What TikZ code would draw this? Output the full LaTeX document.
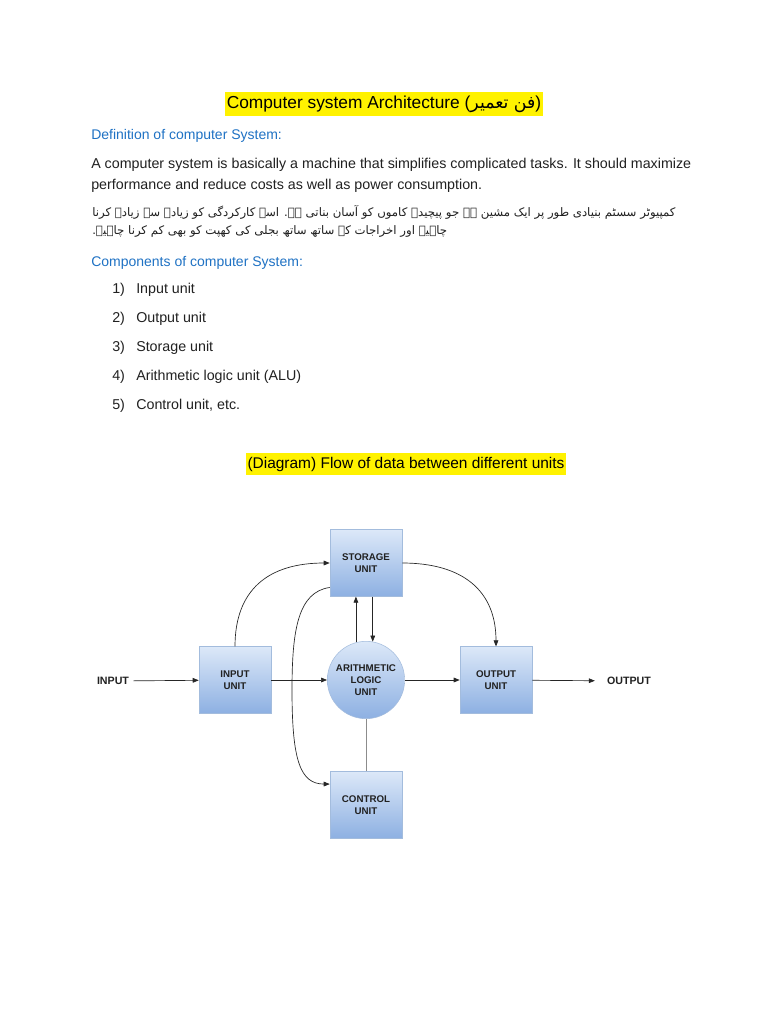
\documentclass[tikz,border=0pt]{standalone}
\usepackage{fontspec}
\setmainfont{Liberation Sans}
\newfontfamily\urdufont[Script=Arabic]{DejaVu Sans}
\TeXXeTstate=1
\usetikzlibrary{arrows.meta}
\definecolor{headblue}{HTML}{1F72C4}
\definecolor{boxtop}{HTML}{DCE8F8}
\definecolor{boxbot}{HTML}{8DB0E2}
\definecolor{boxline}{HTML}{A3BCDD}
\definecolor{txt}{HTML}{212121}
\tikzset{
  bodyline/.style={anchor=base west, inner sep=0pt, text=txt, font=\fontsize{10.7}{12}\selectfont},
  urduline/.style={anchor=base west, inner sep=0pt, text=txt, font=\urdufont\fontsize{8.8}{10}\selectfont},
  heading/.style={anchor=base west, inner sep=0pt, text=headblue, font=\fontsize{10.5}{12}\selectfont},
  marked/.style={fill=yellow, inner xsep=1pt, inner ysep=2.5pt, text=black},
  unitbox/.style={rectangle, draw=boxline, top color=boxtop, bottom color=boxbot,
    minimum width=54pt, minimum height=50pt, align=center, inner sep=0pt,
    text=txt, font=\fontsize{7.3}{9}\selectfont\bfseries},
  alucirc/.style={unitbox, circle, minimum size=58pt},
  flowlbl/.style={inner xsep=3pt, inner ysep=1pt, text=txt, font=\fontsize{8}{9}\selectfont\bfseries},
  flow/.style={draw=black!85, line width=0.5pt, -{Triangle[length=4.5pt,width=3.5pt]}},
}
\begin{document}
\begin{tikzpicture}[x=0.75pt,y=-0.75pt]
  \useasboundingbox[fill=white] (0,0) rectangle (768,1024);

  % text part
  \node[marked, font=\fontsize{13}{15}\selectfont] (title) at (384,104)
    {Computer system Architecture ({\urdufont\beginR فن تعمیر\endR})};
  \node[heading] (defhead) at (91,139) {Definition of computer System:};
  \node[bodyline] (def1) at (91,168) {A computer system is basically a machine that simplifies complicated tasks. It should maximize};
  \node[bodyline] (def2) at (91,189) {performance and reduce costs as well as power consumption.};
  \node[urduline] (urdu1) at (92,216) {\beginR کمپیوٹر سسٹم بنیادی طور پر ایک مشین ہے جو پیچیدہ کاموں کو آسان بناتی ہے. اسے کارکردگی کو زیادہ سے زیادہ کرنا\endR};
  \node[urduline] (urdu2) at (92,234) {\beginR چاہیے اور اخراجات کے ساتھ ساتھ بجلی کی کھپت کو بھی کم کرنا چاہیے.\endR};
  \node[heading] (comphead) at (91,266) {Components of computer System:};
  \foreach \n/\item [count=\i] in {1/Input unit, 2/Output unit, 3/Storage unit,
      4/Arithmetic logic unit (ALU), 5/{Control unit, etc.}} {
    \node[bodyline] (num\n) at (112,264+29*\i) {\n)};
    \node[bodyline] (item\n) at (136,264+29*\i) {\item};
  }
  \node[marked, font=\fontsize{11.6}{13}\selectfont] (diaghead) at (406,464)
    {(Diagram) Flow of data between different units};

  % diagram
  \node[unitbox] (stor) at (366,563) {STORAGE\\UNIT};
  \node[unitbox] (inp) at (235,680) {INPUT\\UNIT};
  \node[alucirc] (alu) at (366,680) {ARITHMETIC\\LOGIC\\UNIT};
  \node[unitbox] (outp) at (496,680) {OUTPUT\\UNIT};
  \node[unitbox] (ctrl) at (366,805) {CONTROL\\UNIT};
  \node[flowlbl] (inlbl) at (113,681) {INPUT};
  \node[flowlbl] (outlbl) at (629,681) {OUTPUT};

  \draw[flow] (inlbl) -- (inp);
  \draw[flow] (inp) -- (alu);
  \draw[flow] (alu) -- (outp);
  \draw[flow, shorten >=6pt] (outp) -- (outlbl);
  \draw[flow] (inp.north) .. controls (235,590) and (268,563) .. (stor.west);
  \draw[flow] (stor.east) .. controls (462,563) and (496,590) .. (outp.north);
  \draw[flow] (alu.80 |- stor.south) -- (alu.80);
  \draw[flow] (alu.105) -- (alu.105 |- stor.south);
  \draw[flow] (stor.214) .. controls (298,592) and (292,630) .. (292,690)
    .. controls (292,760) and (300,784) .. (ctrl.150);
  \draw[black!45, line width=0.6pt] (alu) -- (ctrl);
\end{tikzpicture}
\end{document}
